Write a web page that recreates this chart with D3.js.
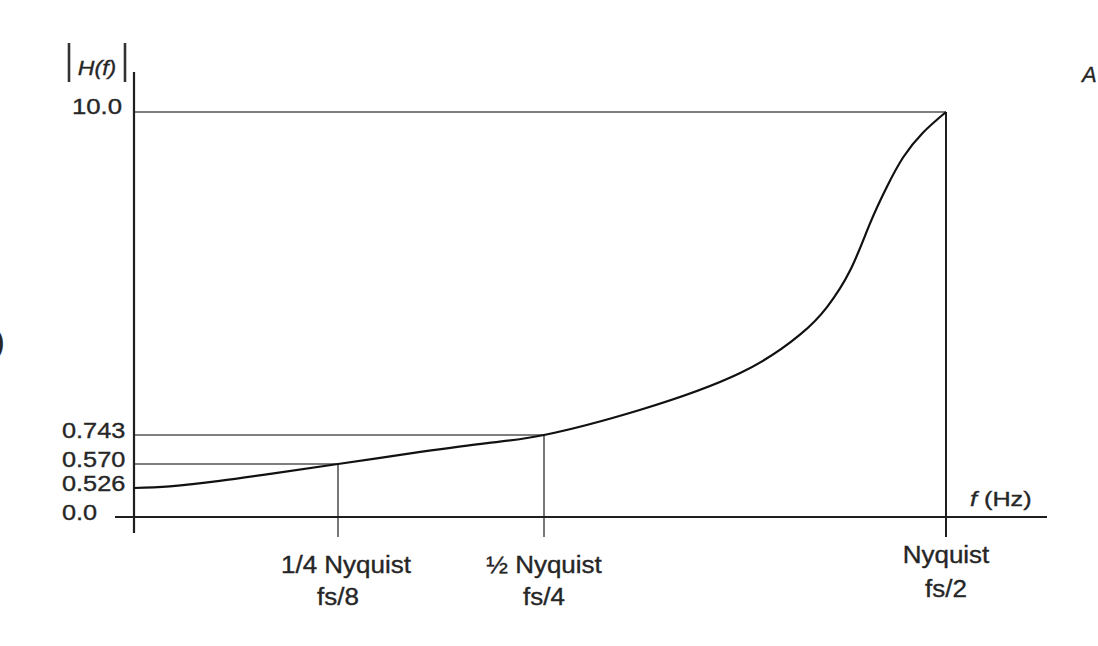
<!DOCTYPE html>
<html>
<head>
<meta charset="utf-8">
<script src="https://cdn.jsdelivr.net/npm/d3@7"></script>
<style>
  body { margin: 0; background: #fff; }
  text { font-family: "Liberation Sans", Arial, sans-serif; fill: #262626; stroke: #262626; stroke-width: 0.35px; }
</style>
</head>
<body>
<div id="chart"></div>
<script>
// frequency as a fraction of Nyquist, and |H(f)|
const freqFrac = [0, 0.044, 0.105, 0.167, 0.25, 0.35, 0.431, 0.5, 0.619, 0.744, 0.818, 0.852, 0.881, 0.905, 0.927, 0.947, 0.971, 1.0];
const magnitude = [0.526, 0.529, 0.539, 0.552, 0.570, 0.642, 0.695, 0.743, 1.46, 2.52, 3.61, 4.41, 5.47, 6.78, 7.88, 8.71, 9.40, 10.0];

const yTicks = [0, 0.526, 0.570, 0.743, 10];
const yLabels = ["0.0", "0.526", "0.570", "0.743", "10.0"];

const xTicks = [0.25, 0.5, 1];
const xLabels = [["1/4 Nyquist", "fs/8"], ["\u00BD Nyquist", "fs/4"], ["Nyquist", "fs/2"]];

// guide lines: curve value at each marked frequency
const guideFreq = [0.25, 0.5, 1];
const guideMag = [0.570, 0.743, 10];

const width = 1098, height = 646;

const svg = d3.select("#chart").append("svg")
    .attr("width", width)
    .attr("height", height);

// the figure is not to scale, so both axes are piecewise
const x = d3.scaleLinear().domain([0, 0.25, 0.5, 1]).range([134, 338, 544, 946]);
const y = d3.scaleLinear().domain(yTicks).range([517, 488, 464, 435, 112]);

const axisColor = "#1e1e1e";
const guideColor = "#555";

// guide lines
guideFreq.forEach((f, i) => {
    svg.append("line")
       .attr("x1", x(0)).attr("x2", x(f))
       .attr("y1", y(guideMag[i])).attr("y2", y(guideMag[i]))
       .attr("stroke", guideColor).attr("stroke-width", 1.6);
    svg.append("line")
       .attr("x1", x(f)).attr("x2", x(f))
       .attr("y1", y(guideMag[i])).attr("y2", y(0) + 20)
       .attr("stroke", i === 2 ? axisColor : guideColor)
       .attr("stroke-width", i === 2 ? 2 : 1.6);
});

// axes
svg.append("line")
   .attr("x1", x(0)).attr("x2", x(0))
   .attr("y1", 72).attr("y2", y(0) + 16)
   .attr("stroke", axisColor).attr("stroke-width", 2.2);
svg.append("line")
   .attr("x1", 115).attr("x2", 1047)
   .attr("y1", y(0)).attr("y2", y(0))
   .attr("stroke", axisColor).attr("stroke-width", 2.2);

// curve
const points = freqFrac.map((f, i) => [f, magnitude[i]]);
svg.append("path")
   .datum(points)
   .attr("fill", "none")
   .attr("stroke", "#111")
   .attr("stroke-width", 2.2)
   .attr("d", d3.line()
       .x(d => x(d[0]))
       .y(d => y(d[1]))
       .curve(d3.curveNatural));

// y tick labels
svg.selectAll(".ylab")
   .data(yTicks)
   .enter().append("text")
   .attr("class", "ylab")
   .attr("transform", d => d === 10
        ? `translate(122,${y(d) + 2}) scale(1.17,1)`
        : `translate(62,${y(d) + 3}) scale(1.15,1)`)
   .attr("text-anchor", d => d === 10 ? "end" : "start")
   .attr("font-size", 22)
   .text((d, i) => yLabels[i]);

// x tick labels
xTicks.forEach((t, i) => {
    const base = i === 2 ? [563, 597] : [573, 605];
    xLabels[i].forEach((s, j) => {
        svg.append("text")
           .attr("transform", `translate(${x(t) + (j === 0 && i === 0 ? 8 : 0)},${base[j]}) scale(1.13,1)`)
           .attr("text-anchor", "middle")
           .attr("font-size", 23)
           .text(s);
    });
});

// y axis title |H(f)|
svg.append("line").attr("x1", 69).attr("x2", 69).attr("y1", 43).attr("y2", 82)
   .attr("stroke", "#333").attr("stroke-width", 2.6);
svg.append("line").attr("x1", 125).attr("x2", 125).attr("y1", 43).attr("y2", 82)
   .attr("stroke", "#333").attr("stroke-width", 2.6);
svg.append("text")
   .attr("transform", `translate(97,75) scale(1.1,1)`)
   .attr("text-anchor", "middle")
   .attr("font-size", 21)
   .attr("font-style", "italic")
   .text("H(f)");

// x axis title
const xt = svg.append("text")
   .attr("transform", `translate(970,506) scale(1.2,1)`)
   .attr("font-size", 21);
xt.append("tspan").attr("font-style", "italic").text("f");
xt.append("tspan").text(" (Hz)");

// fragments of neighbouring figures at the crop edges
svg.append("text")
   .attr("x", 1082).attr("y", 82)
   .attr("font-size", 22).attr("font-style", "italic")
   .text("A");
svg.append("text")
   .attr("x", -6).attr("y", 352)
   .attr("font-size", 32)
   .text(")");
</script>
</body>
</html>
